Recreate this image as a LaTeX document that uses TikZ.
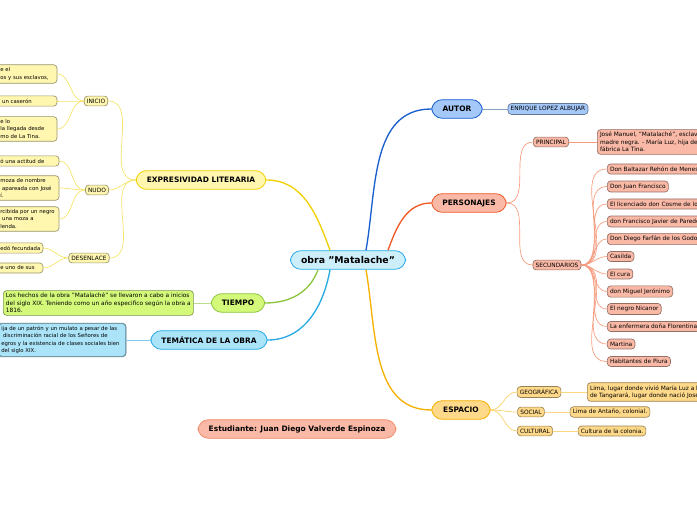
\documentclass[tikz,border=0pt]{standalone}
\usepackage{fontspec}
\setmainfont{DejaVu Sans}
\usetikzlibrary{backgrounds}
\newcommand\lnx[1]{\mbox{#1}}
\begin{document}
\begin{tikzpicture}[x=0.75pt,y=-0.75pt,
 box/.style={draw=#1!60!black,rounded corners=2.5pt,font=\fontsize{4.4}{5.5}\selectfont,inner sep=2pt,align=left,line width=0.5pt},
 main/.style={draw=#1,rounded corners=8pt,font=\bfseries\fontsize{5.6}{6.5}\selectfont,minimum height=14pt,inner xsep=8pt,line width=0.6pt},
 con/.style={draw=#1,line width=0.5pt}]
\useasboundingbox (0,0) rectangle (697,520);
\clip (0,0) rectangle (697,520);
\definecolor{cb}{HTML}{1A5FD0}\definecolor{co}{HTML}{F05A28}\definecolor{cy}{HTML}{F5B000}
\definecolor{cl}{HTML}{F0D000}\definecolor{cg}{HTML}{8CC63F}\definecolor{ct}{HTML}{29ABE2}
\definecolor{fb}{HTML}{A4C8F8}\definecolor{fo}{HTML}{F9B9A6}\definecolor{fy}{HTML}{FFD98A}
\definecolor{fl}{HTML}{FFF6B0}\definecolor{fg}{HTML}{D4F87A}\definecolor{ft}{HTML}{ABE4F8}\definecolor{fc}{HTML}{CDEEFB}

\node[main=ct,fill=fc,minimum width=112pt*0.75,font=\bfseries\fontsize{7}{8}\selectfont] (c) at (348,260) {obra "Matalache"};

% AUTOR
\node[main=cb,fill=fb,minimum width=38pt] (au) at (457,109) {AUTOR};
\node[box=fb,fill=fb] (au1) at (548,109) {ENRIQUE LOPEZ ALBUJAR};
\draw[cb,line width=1pt] (c.north) ++(18,0) to[out=80,in=180] (au.west);
\draw[con=fb!80!black] (au.east) -- (au1.west);

% PERSONAJES
\node[main=co,fill=fo,minimum width=56pt] (pe) at (469,203) {PERSONAJES};
\draw[co,line width=1pt] (c.north) ++(40,0) to[out=70,in=180] (pe.west);
\node[box=fo,fill=fo] (pr) at (551,142) {PRINCIPAL};
\node[box=fo,fill=fo,anchor=west] (pr1) at (597,142) {José Manuel, "Matalaché", esclavo hijo de padre blanco y\\madre negra. - María Luz, hija de Don Juan Francisco, dueño de la\\fábrica La Tina.};
\node[box=fo,fill=fo] (se) at (557,265) {SECUNDARIOS};
\draw[con=co!60] (pe.east) to[out=0,in=180] (pr.west);
\draw[con=co!60] (pe.east) to[out=0,in=180] (se.west);
\draw[con=co!60] (pr.east) -- (pr1.west);
\foreach \t [count=\i] in {Don Baltazar Rehón de Meneses,Don Juan Francisco,El licenciado don Cosme de los Ríos,don Francisco Javier de Paredes,Don Diego Farfán de los Godos,Casilda,El cura,don Miguel Jerónimo,El negro Nicanor,La enfermera doña Florentina,Martina,Habitantes de Piura}{
 \node[box=fo,fill=fo,anchor=west] (s\i) at (607,{151.5+17.5*\i}) {\t};
 \draw[con=co!60] (se.east) to[out=0,in=180] (s\i.west);
}

% ESPACIO
\node[main=cy,fill=fy,minimum width=44pt] (es) at (461,410) {ESPACIO};
\draw[cy,line width=1pt] (c.south) ++(18,0) to[out=-80,in=180] (es.west);
\node[box=fy,fill=fy] (g) at (539,392) {GEOGRÁFICA};
\node[box=fy,fill=fy] (so) at (531,412) {SOCIAL};
\node[box=fy,fill=fy] (cu) at (535,431) {CULTURAL};
\node[box=fy,fill=fy,anchor=west] (g1) at (587,392) {Lima, lugar donde vivió María Luz a la muerte de su padre. - Hacienda\\de Tangarará, lugar donde nació José Manuel.};
\node[box=fy,fill=fy] (so1) at (610,412) {Lima de Antaño, colonial.};
\node[box=fy,fill=fy] (cu1) at (612,431) {Cultura de la colonia.};
\foreach \a in {g,so,cu}{\draw[con=cy!60] (es.east) to[out=0,in=180] (\a.west); \draw[con=cy!50] (\a.east) -- (\a1.west);}

% EXPRESIVIDAD
\node[main=cl,fill=fl,minimum width=130pt*0.75] (ex) at (201,180) {EXPRESIVIDAD LITERARIA};
\draw[cl,line width=1pt] (c.north) ++(-18,0) to[out=110,in=0] (ex.east);
\node[box=fl,fill=fl] (in) at (96,101) {INICIO};
\node[box=fl,fill=fl] (nu) at (97,190) {NUDO};
\node[box=fl,fill=fl] (de) at (89,258) {DESENLACE};
\foreach \a in {in,nu,de}{\draw[con=cl!60] (ex.west) to[out=180,in=0] (\a.east);}
\tikzset{lf/.style={font=\fontsize{4.0}{5.5}\selectfont,inner sep=2pt,align=left,anchor=east,text width=#1*0.75pt-4pt}}
\newcommand\leafbg[1]{\begin{pgfonlayer}{background}\draw[draw=fl!60!black,fill=fl,rounded corners=2.5pt,line width=0.5pt] (#1.north east) rectangle ([xshift=-30pt]#1.south west);\end{pgfonlayer}}
\node[lf=59] (i1) at (57,74) {\lnx{e el}\\\lnx{os y sus esclavos,}\\ };
\node[lf=59] (i2) at (57,101) {\lnx{\ un caserón}};
\node[lf=59] (i3) at (57,129) {\lnx{e lo}\\\lnx{la llegada desde}\\\lnx{mo de La Tina.}};
\node[lf=61] (n1) at (59,161) {\lnx{ó una actitud de}\\ };
\node[lf=61] (n2) at (59,188) {\lnx{moza de nombre}\\\lnx{\ apareada con José}\\\lnx{í.}};
\node[lf=61] (n3) at (59,219) {\lnx{rcibida por un negro}\\\lnx{\ una moza a}\\\lnx{lenda.}};
\node[lf=45] (d1) at (43,248) {\lnx{edó fecundada}};
\node[lf=45] (d2) at (43,268) {\lnx{e uno de sus}};
\foreach \a in {i1,i2,i3,n1,n2,n3,d1,d2}{\leafbg{\a}}
\foreach \a in {i1,i2,i3}{\draw[con=cl!60] (in.west) to[out=180,in=0] (\a.east);}
\foreach \a in {n1,n2,n3}{\draw[con=cl!60] (nu.west) to[out=180,in=0] (\a.east);}
\foreach \a in {d1,d2}{\draw[con=cl!60] (de.west) to[out=180,in=0] (\a.east);}

% TIEMPO
\node[main=cg,fill=fg,minimum width=40pt] (ti) at (238,303) {TIEMPO};
\draw[cg,line width=1pt] (c.south) ++(-30,0) to[out=-110,in=0] (ti.east);
\node[box=fg,fill=fg,anchor=west] (t1) at (3,303) {Los hechos de la obra "Matalaché" se llevaron a cabo a inicios\\del siglo XIX. Teniendo como un año especifico según la obra a\\1816.};
\draw[con=cg!60] (ti.west) -- (t1.east);

% TEMATICA
\node[box=ft,fill=ft,anchor=east,text width=127*0.75pt-4pt,font=\fontsize{4.0}{5.5}\selectfont] (te1) at (126,340) {\lnx{ija de un patrón y un mulato a pesar de las}\\\lnx{\ discriminación racial de los Señores de}\\\lnx{egros y la existencia de clases sociales bien}\\\lnx{del siglo XIX.}};
\node[main=ct,fill=ft,minimum width=85pt] (te) at (209,340) {TEMÁTICA DE LA OBRA};
\draw[ct,line width=1pt] (c.south) ++(-18,0) to[out=-100,in=0] (te.east);
\begin{pgfonlayer}{background}\draw[draw=ft!60!black,fill=ft,rounded corners=2.5pt,line width=0.5pt] (te1.north east) rectangle ([xshift=-30pt]te1.south west);\end{pgfonlayer}
\draw[con=ct!60] (te.west) -- (te1.east);

\node[main=co!70,fill=fo,minimum width=188pt*0.75] (st) at (297,429) {Estudiante: Juan Diego Valverde Espinoza};
\end{tikzpicture}
\end{document}
